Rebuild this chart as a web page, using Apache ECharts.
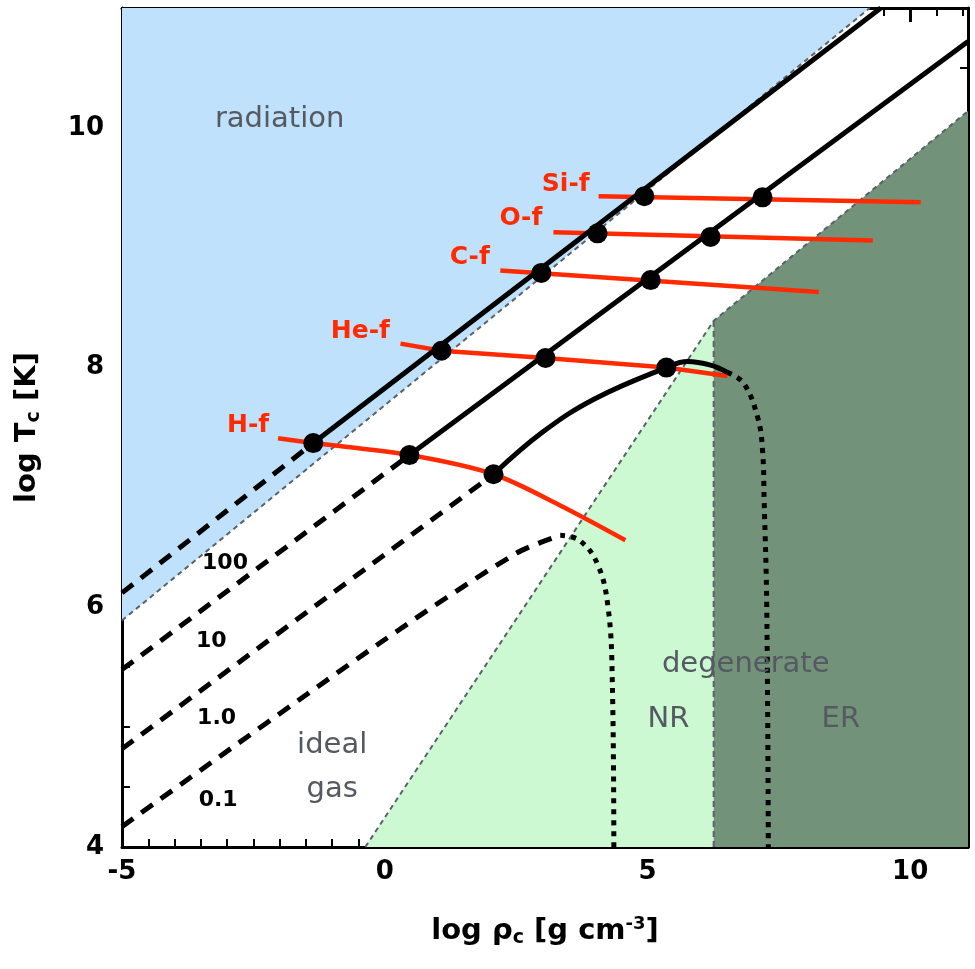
<!DOCTYPE html>
<html>
<head>
<meta charset="utf-8">
<script src="https://cdn.jsdelivr.net/npm/echarts@6/dist/echarts.min.js"></script>
<style>html,body{margin:0;padding:0;background:#fff}#main{width:975px;height:969px}</style>
</head>
<body>
<div id="main"></div>
<script>
{
    /* 区域 */
    const radRegion = [[-5, 5.89], [9.23, 11], [-5, 11]];
    const nrRegion = [[-0.37, 4], [6.26, 8.39], [6.26, 4]];
    const erRegion = [[6.26, 4], [6.26, 8.39], [11.1, 10.14], [11.1, 4]];
    const radBoundary = [[-5, 5.89], [9.23, 11]];
    const degBoundary = [[-0.37, 4], [6.26, 8.39], [11.1, 10.14]];
    const nrErBoundary = [[6.26, 4], [6.26, 8.39]];

    /* 质量演化轨迹 */
    const m100Dashed = [[-5, 6.12], [-1.36, 7.37]];
    const m100Solid = [[-1.36, 7.37], [9.44, 11]];
    const m10Dashed = [[-5, 5.48], [0.47, 7.27]];
    const m10Solid = [[0.47, 7.27], [11.1, 10.72]];
    const m1Dashed = [[-5, 4.82], [2.07, 7.11]];
    const m1Solid = [[2.07, 7.11], [3.0, 7.46], [4.0, 7.74], [5.36, 8.0], [5.76, 8.05], [6.2, 8.02], [6.52, 7.96]];
    const m1Dotted = [[6.52, 7.96], [6.83, 7.87], [7.1, 7.58], [7.19, 7.31], [7.22, 6.9], [7.27, 6.0], [7.3, 4]];
    const m01Dashed = [[-5, 4.17], [-0.1, 5.7], [2.5, 6.45], [3.34, 6.6]];
    const m01Dotted = [[3.34, 6.6], [3.7, 6.56], [4.05, 6.36], [4.25, 6.0], [4.33, 5.4], [4.36, 4]];

    /* 燃烧线 */
    const hBurn = [[-2.03, 7.41], [-1.36, 7.37], [0.47, 7.27], [2.07, 7.11], [3.34, 6.85], [4.58, 6.56]];
    const heBurn = [[0.3, 8.2], [1.08, 8.14], [3.06, 8.08], [5.36, 8.0], [6.52, 7.93]];
    const cBurn = [[2.2, 8.81], [8.26, 8.63]];
    const oBurn = [[3.21, 9.13], [9.29, 9.06]];
    const siBurn = [[4.07, 9.43], [10.2, 9.38]];

    const dots = [[-1.36, 7.37], [1.08, 8.14], [2.98, 8.79], [4.05, 9.12], [4.94, 9.43],
        [0.47, 7.27], [3.06, 8.08], [5.06, 8.73], [6.2, 9.09], [7.19, 9.42],
        [2.07, 7.11], [5.36, 8.0]];

    const burnLabels = [['H-f', -2.2, 7.52], ['He-f', 0.1, 8.3], ['C-f', 2.0, 8.92], ['O-f', 3.0, 9.24], ['Si-f', 3.9, 9.53]];
    const massLabels = [['100', -3.04, 6.37], ['10', -3.3, 5.72], ['1.0', -3.2, 5.07], ['0.1', -3.17, 4.39]];
    const regionLabels = [['radiation', -2.0, 10.07], ['degenerate', 6.87, 5.52], ['NR', 5.4, 5.06], ['ER', 8.68, 5.06], ['ideal', -1.0, 4.85], ['gas', -1.0, 4.48]];

    const chart = echarts.init(document.getElementById('main'));
    const FONT = 'DejaVu Sans';

    function poly(pts, color) {
        return {
            type: 'custom', silent: true, z: 1, data: [0],
            renderItem: (params, api) => ({
                type: 'polygon',
                shape: {points: pts.map(p => api.coord(p))},
                style: {fill: color}
            })
        };
    }
    function line(pts, color, width, type, z, smooth) {
        return {
            type: 'line', data: pts, showSymbol: false, silent: true, z: z || 3, smooth: smooth || false,
            lineStyle: {color, width, type: type || 'solid', cap: 'butt'}
        };
    }
    function textSeries(items, color, size, weight, align) {
        return {
            type: 'scatter', symbolSize: 0, z: 6, silent: true, itemStyle: {opacity: 1},
            data: items.map(t => ({value: [t[1], t[2]], name: t[0]})),
            label: {show: true, formatter: '{b}', position: 'inside', color, fontSize: size,
                fontWeight: weight, fontFamily: FONT, align: align || 'center'}
        };
    }

    const axisCommon = {
        type: 'value', splitLine: {show: false},
        axisLine: {show: true, onZero: false, lineStyle: {color: '#000', width: 3}},
        axisTick: {inside: true, length: 14, lineStyle: {width: 3, color: '#000'}},
        minorTick: {show: true, length: 8, lineStyle: {width: 2, color: '#000'}}
    };
    const xMinor = Object.assign({}, axisCommon.minorTick, {splitNumber: 10});
    const yMinor = Object.assign({}, axisCommon.minorTick, {splitNumber: 4});

    const option = {
        animation: false,
        grid: {left: 122, right: 7, top: 8, bottom: 122},
        xAxis: [
            Object.assign({}, axisCommon, {
                min: -5, max: 11.1, interval: 5, minorTick: xMinor,
                axisLabel: {fontSize: 26, fontWeight: 'bold', fontFamily: FONT, color: '#000', margin: 12, showMaxLabel: false},
                name: '{n|log ρ}{s|c}{n| [g cm}{p|-3}{n|]}', nameLocation: 'middle', nameGap: 68,
                nameTextStyle: {rich: {
                    n: {fontSize: 29, fontWeight: 'bold', fontFamily: FONT, color: '#000'},
                    s: {fontSize: 19, fontWeight: 'bold', fontFamily: FONT, color: '#000', padding: [14, 0, 0, 0]},
                    p: {fontSize: 18, fontWeight: 'bold', fontFamily: FONT, color: '#000', padding: [0, 0, 14, 0]}
                }}
            }),
            Object.assign({}, axisCommon, {
                position: 'top', min: -5, max: 11.1, interval: 5, minorTick: xMinor,
                axisLabel: {show: false}
            })
        ],
        yAxis: [
            Object.assign({}, axisCommon, {
                min: 4, max: 11, interval: 2, minorTick: yMinor,
                axisLabel: {fontSize: 26, fontWeight: 'bold', fontFamily: FONT, color: '#000', margin: 18, showMaxLabel: false},
                name: '{n|log T}{s|c}{n| [K]}', nameLocation: 'middle', nameGap: 78, nameRotate: 90,
                nameTextStyle: {rich: {
                    n: {fontSize: 29, fontWeight: 'bold', fontFamily: FONT, color: '#000'},
                    s: {fontSize: 19, fontWeight: 'bold', fontFamily: FONT, color: '#000', padding: [14, 0, 0, 0]}
                }}
            }),
            Object.assign({}, axisCommon, {
                position: 'right', min: 4, max: 11, interval: 2, minorTick: yMinor,
                axisLabel: {show: false}
            })
        ],
        series: [
            poly(radRegion, '#bfe1fb'),
            poly(nrRegion, '#ccf8d2'),
            poly(erRegion, '#72927a'),
            line(radBoundary, '#5a6068', 2, [5, 4], 2),
            line(degBoundary, '#5a6068', 2, [5, 4], 2),
            line(nrErBoundary, '#5a6068', 2, [6, 4], 2),
            line(hBurn, '#ff2a00', 4.5, 'solid', 3, 0.3),
            line(heBurn, '#ff2a00', 4.5, 'solid', 3),
            line(cBurn, '#ff2a00', 4.5, 'solid', 3),
            line(oBurn, '#ff2a00', 4.5, 'solid', 3),
            line(siBurn, '#ff2a00', 4.5, 'solid', 3),
            line(m100Dashed, '#000', 5, [14, 10], 4),
            line(m100Solid, '#000', 5, 'solid', 4),
            line(m10Dashed, '#000', 5, [14, 10], 4),
            line(m10Solid, '#000', 5, 'solid', 4),
            line(m1Dashed, '#000', 5, [14, 10], 4),
            line(m1Solid, '#000', 5, 'solid', 4, 0.4),
            line(m1Dotted, '#000', 5, [5, 6], 4, 0.4),
            line(m01Dashed, '#000', 5, [14, 10], 4, 0.3),
            line(m01Dotted, '#000', 5, [5, 6], 4, 0.4),
            {type: 'scatter', data: dots, symbolSize: 20, z: 5, silent: true, itemStyle: {color: '#000', opacity: 1}},
            textSeries(burnLabels, '#ff2a00', 25, 'bold', 'right'),
            textSeries(massLabels, '#000', 22, 'bold', 'center'),
            textSeries(regionLabels, '#555a62', 29, 'normal', 'center')
        ]
    };
    chart.setOption(option);
}
</script>
</body>
</html>
